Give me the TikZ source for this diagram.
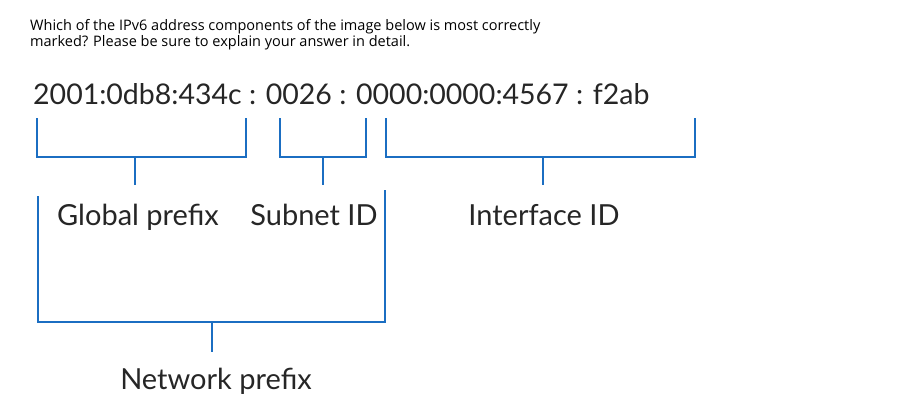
\documentclass[tikz,border=0pt]{standalone}
\usepackage{fontspec}
\setmainfont{Open Sans}
\newfontfamily\gill{Lato}
\definecolor{bl}{HTML}{1B6EC2}
\begin{document}
\begin{tikzpicture}[x=1pt,y=-1pt,
  br/.style={draw=bl,line width=2pt},
  q/.style={font=\fontsize{14.5}{15}\selectfont,anchor=base west,inner sep=0},
  lab/.style={font=\gill\fontsize{29}{30}\selectfont,anchor=base,inner sep=0,text=black!85}]
\useasboundingbox (0,0) rectangle (916,412);
\node[q] (q1) at (30,31) {Which of the IPv6 address components of the image below is most correctly};
\node[q] (q2) at (30,47) {marked? Please be sure to explain your answer in detail.};
\node[lab,anchor=base west,font=\gill\fontsize{28.5}{30}\selectfont] (addr) at (33,104) {2001:0db8:434c : 0026 : 0000:0000:4567 : f2ab};
\draw[br] (37,118) -- (37,157) -- (246,157) -- (246,118);
\draw[br] (135,157) -- (135,185);
\draw[br] (280,118) -- (280,157) -- (366,157) -- (366,118);
\draw[br] (323,157) -- (323,185);
\draw[br] (386,118) -- (386,157) -- (695,157) -- (695,118);
\draw[br] (543,157) -- (543,185);
\node[lab] (gp) at (138,225) {Global prefix};
\node[lab] (sid) at (314,225) {Subnet ID};
\node[lab] (iid) at (544,225) {Interface ID};
\draw[br] (38,196) -- (38,322) -- (385,322) -- (385,190);
\draw[br] (212,322) -- (212,352);
\node[lab] (np) at (216,389) {Network prefix};
\end{tikzpicture}
\end{document}
